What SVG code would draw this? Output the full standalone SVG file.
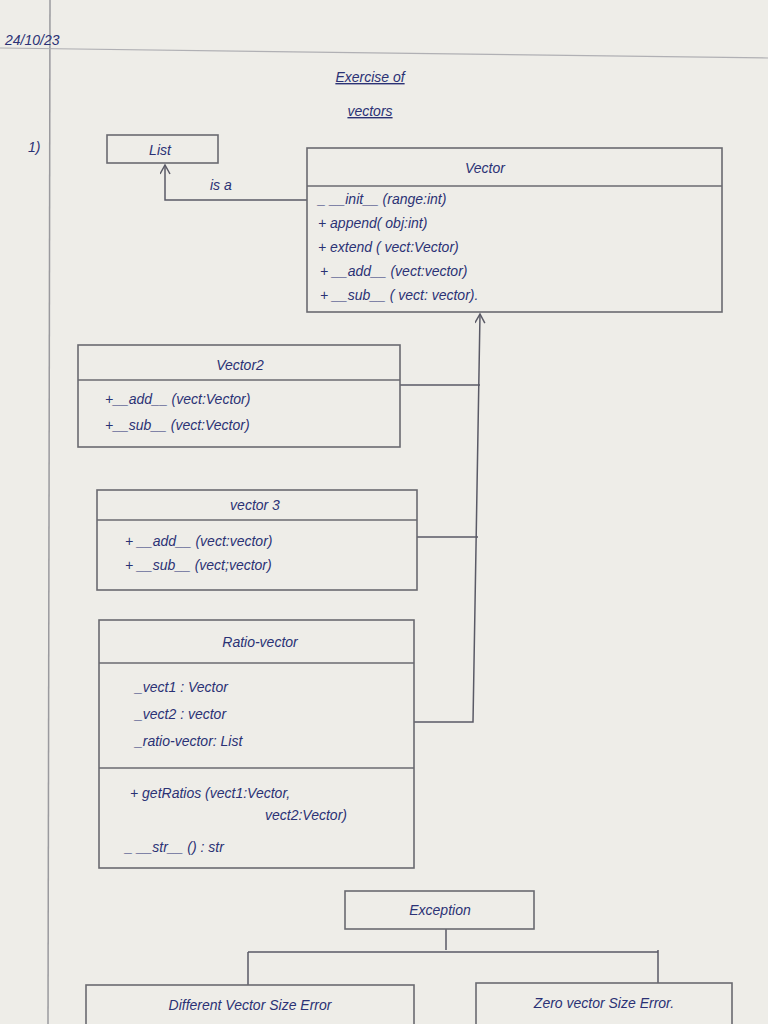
<svg xmlns="http://www.w3.org/2000/svg" width="768" height="1024" viewBox="0 0 768 1024">
<style>
.b{fill:none;stroke:#6a6a70;stroke-width:1.6}
.c{fill:none;stroke:#5a5a66;stroke-width:1.5}
.t{font-family:"Liberation Sans",sans-serif;font-size:14px;fill:#2b3275;font-style:italic}
.h{text-anchor:middle}
</style>
<defs><marker id="a" markerWidth="12" markerHeight="12" refX="10" refY="5" orient="auto" markerUnits="userSpaceOnUse"><path d="M1,0 L10,5 L1,10" fill="none" stroke="#5a5a66" stroke-width="1.5"/></marker></defs>
<rect width="768" height="1024" fill="#eeede8"/>
<line x1="50" y1="0" x2="48" y2="1024" stroke="#9a9a9e" stroke-width="1.5"/>
<line x1="0" y1="48" x2="768" y2="58" stroke="#b0b0b4" stroke-width="1.2"/>
<text class="t" x="5" y="45" font-size="12">24/10/23</text>
<text class="t h" x="370" y="82" font-size="16" text-decoration="underline">Exercise of</text>
<text class="t h" x="370" y="116" font-size="16" text-decoration="underline">vectors</text>
<text class="t" x="28" y="152" font-size="15">1)</text>
<g id="connectors">
<path class="c" d="M307,200 H165 V165" marker-end="url(#a)"/>
<text class="t" x="210" y="190" font-size="10">is a</text>
<path class="c" d="M400,385 H480 M417,537 H478 M414,722 H473 L480,314" marker-end="url(#a)"/>
<path class="c" d="M446,929 V950 M248,952 H658 M248,952 V985 M658,950 V983"/>
</g>
<g id="list"><rect class="b" x="107" y="135" width="111" height="28"/><text class="t h" x="160" y="155">List</text></g>
<g id="vector"><rect class="b" x="307" y="148" width="415" height="164"/><line class="b" x1="307" y1="186" x2="722" y2="186"/>
<text class="t h" x="485" y="173">Vector</text>
<text class="t" x="318" y="204">_ __init__ (range:int)</text>
<text class="t" x="318" y="228">+ append( obj:int)</text>
<text class="t" x="318" y="252">+ extend ( vect:Vector)</text>
<text class="t" x="320" y="276">+ __add__ (vect:vector)</text>
<text class="t" x="320" y="300">+ __sub__ ( vect: vector).</text></g>
<g id="vector2"><rect class="b" x="78" y="345" width="322" height="102"/><line class="b" x1="78" y1="380" x2="400" y2="380"/>
<text class="t h" x="240" y="370">Vector2</text>
<text class="t" x="105" y="404">+__add__ (vect:Vector)</text>
<text class="t" x="105" y="430">+__sub__ (vect:Vector)</text></g>
<g id="vector3"><rect class="b" x="97" y="490" width="320" height="100"/><line class="b" x1="97" y1="520" x2="417" y2="520"/>
<text class="t h" x="255" y="510">vector 3</text>
<text class="t" x="125" y="546">+ __add__ (vect:vector)</text>
<text class="t" x="125" y="570">+ __sub__ (vect;vector)</text></g>
<g id="ratio"><rect class="b" x="99" y="620" width="315" height="248"/><line class="b" x1="99" y1="663" x2="414" y2="663"/><line class="b" x1="99" y1="768" x2="414" y2="768"/>
<text class="t h" x="260" y="647">Ratio-vector</text>
<text class="t" x="135" y="692">_vect1 : Vector</text>
<text class="t" x="135" y="719">_vect2 : vector</text>
<text class="t" x="135" y="746">_ratio-vector: List</text>
<text class="t" x="130" y="798">+ getRatios (vect1:Vector,</text>
<text class="t" x="265" y="820">vect2:Vector)</text>
<text class="t" x="125" y="852">_ __str__ () : str</text></g>
<g id="exception"><rect class="b" x="345" y="891" width="189" height="38"/><text class="t h" x="440" y="915" font-size="15">Exception</text></g>
<g id="diff"><rect class="b" x="86" y="985" width="328" height="45"/><text class="t h" x="250" y="1010" font-size="15">Different Vector Size Error</text></g>
<g id="zero"><rect class="b" x="476" y="983" width="256" height="45"/><text class="t h" x="604" y="1008" font-size="15">Zero vector Size Error.</text></g>
</svg>
